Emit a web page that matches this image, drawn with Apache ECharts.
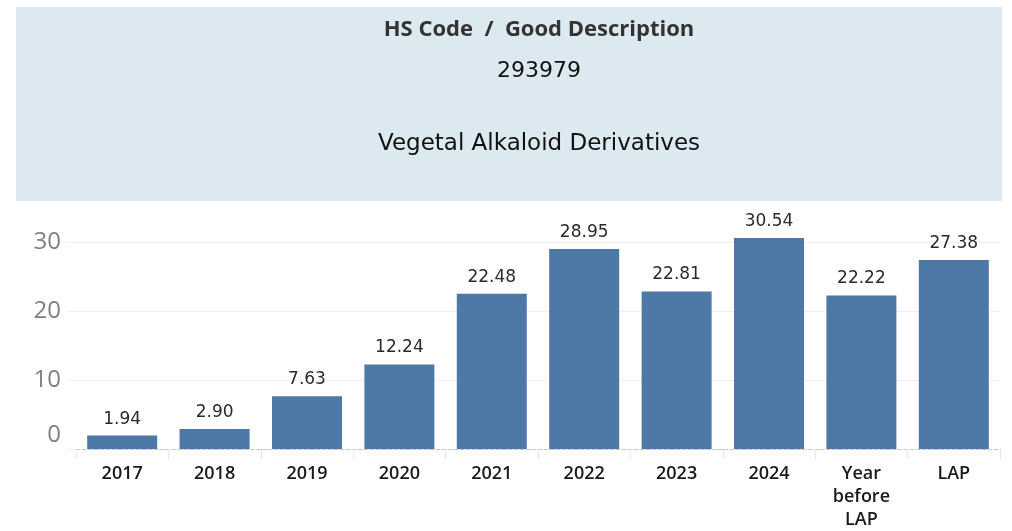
<!DOCTYPE html>
<html>
<head>
<meta charset="utf-8">
<script src="https://cdn.jsdelivr.net/npm/echarts@6/dist/echarts.min.js"></script>
<style>
  html, body { margin: 0; padding: 0; background: #fff; }
  #chart { width: 1012px; height: 531px; }
</style>
</head>
<body>
<div id="chart"></div>
<script>
const categories = ['2017', '2018', '2019', '2020', '2021', '2022', '2023', '2024', 'Year before LAP', 'LAP']
const values = [1.94, 2.90, 7.63, 12.24, 22.48, 28.95, 22.81, 30.54, 22.22, 27.38]
const headerLines = ['HS Code  /  Good Description', '293979', 'Vegetal Alkaloid Derivatives']

const chart = echarts.init(document.getElementById('chart'))
const font = '"Open Sans", "Noto Sans", sans-serif'
const bookFont = '"DejaVu Sans", "Noto Sans", sans-serif'

const option = {
  animation: false,
  // header panel
  graphic: [{
    type: 'rect',
    shape: { x: 16, y: 7, width: 986, height: 194 },
    style: { fill: '#dde9f0' },
    z: -1
  }],
  title: [
    { text: headerLines[0], left: 539, top: 17, textAlign: 'center', padding: 0,
      textStyle: { fontFamily: font, fontSize: 22, fontWeight: 'bold', color: '#333', lineHeight: 26 } },
    { text: headerLines[1], left: 539, top: 58, textAlign: 'center', padding: 0,
      textStyle: { fontFamily: bookFont, fontSize: 22, fontWeight: 'normal', color: '#111', lineHeight: 26 } },
    { text: headerLines[2], left: 539, top: 131, textAlign: 'center', padding: 0,
      textStyle: { fontFamily: bookFont, fontSize: 23, fontWeight: 'normal', color: '#111', lineHeight: 26 } }
  ],
  grid: {
    top: 228,
    left: 76,
    right: 12,
    bottom: 76,
    containLabel: false
  },
  xAxis: {
    type: 'category',
    data: categories,
    axisLine: { lineStyle: { color: '#c8c8c8', type: 'dashed', width: 1 } },
    axisTick: { show: true, length: 10, lineStyle: { color: '#e6e6e6' } },
    axisLabel: {
      fontFamily: font,
      fontSize: 18,
      fontWeight: 600,
      color: '#1a1a1a',
      margin: 13,
      lineHeight: 23,
      verticalAlign: 'top',
      interval: 0,
      formatter: v => v.split(' ').join('\n')
    }
  },
  yAxis: {
    type: 'value',
    min: 0,
    max: 32,
    interval: 10,
    axisLine: { show: false },
    axisTick: { show: true, length: 9, lineStyle: { color: '#efefef' } },
    axisLabel: {
      fontFamily: font,
      fontSize: 24,
      color: '#808080',
      margin: 15,
      showMaxLabel: false,
      formatter: v => v === 0 ? '{z|0}' : String(v),
      rich: {
        z: { fontFamily: font, fontSize: 24, color: '#808080', padding: [0, 0, 28, 0] }
      }
    },
    splitLine: { showMinLine: false, showMaxLine: false, lineStyle: { color: '#efefef', width: 1 } }
  },
  series: [{
    type: 'bar',
    data: values,
    barWidth: 70,
    itemStyle: { color: '#4e79a7' },
    label: {
      show: true,
      position: 'top',
      distance: 8,
      fontFamily: bookFont,
      fontSize: 17,
      color: '#2a2a2a',
      formatter: p => p.value.toFixed(2)
    }
  }]
}

chart.setOption(option)
</script>
</body>
</html>
